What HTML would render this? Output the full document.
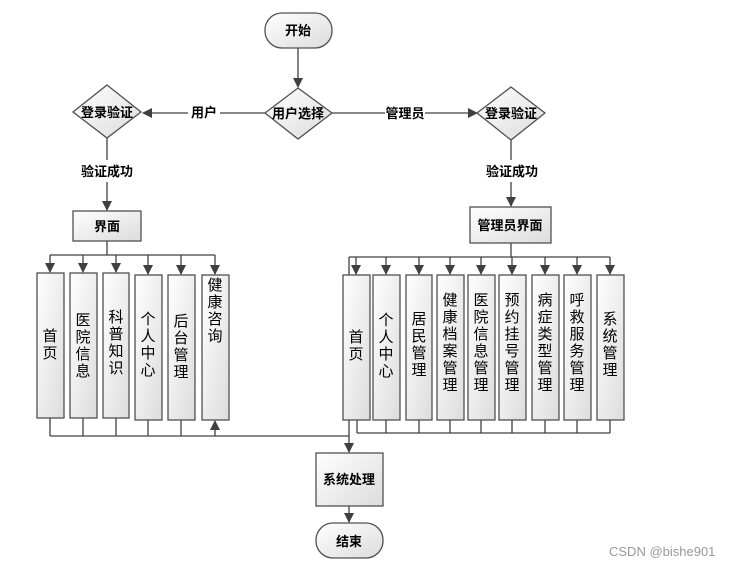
<!DOCTYPE html>
<html><head><meta charset="utf-8"><style>
html,body{margin:0;padding:0;background:#fff;}
svg{display:block;}
text{font-family:"Liberation Sans","Noto Sans CJK SC",sans-serif;fill:#000;}
.b{font-weight:bold;font-size:13px;}
.v{font-size:15px;}
</style></head><body>
<svg width="733" height="565" viewBox="0 0 733 565" xmlns="http://www.w3.org/2000/svg">
<defs>
<linearGradient id="g" x1="0" y1="0" x2="1" y2="1">
<stop offset="0" stop-color="#ffffff"/><stop offset="1" stop-color="#dcdcdc"/>
</linearGradient>
<marker id="a" markerWidth="10" markerHeight="10" refX="9" refY="5" orient="auto" markerUnits="userSpaceOnUse">
<path d="M0,0 L10,5 L0,10 z" fill="#404040"/>
</marker>
</defs>
<g stroke="#404040" stroke-width="1.3" fill="none">
<!-- start to choice -->
<line x1="298" y1="48" x2="298" y2="87" marker-end="url(#a)"/>
<line x1="265" y1="113" x2="220" y2="113"/>
<line x1="188" y1="113" x2="143" y2="113" marker-end="url(#a)"/>
<line x1="332" y1="113" x2="385" y2="113"/>
<line x1="425" y1="113" x2="477" y2="113" marker-end="url(#a)"/>
<line x1="107" y1="138" x2="107" y2="160"/>
<line x1="107" y1="182" x2="107" y2="210" marker-end="url(#a)"/>
<line x1="511" y1="140" x2="511" y2="160"/>
<line x1="511" y1="182" x2="511" y2="206" marker-end="url(#a)"/>
<!-- left fan -->
<line x1="107" y1="241" x2="107" y2="255"/>
<line x1="50" y1="255" x2="215" y2="255"/>
<line x1="50" y1="255" x2="50" y2="272" marker-end="url(#a)"/>
<line x1="83" y1="255" x2="83" y2="272" marker-end="url(#a)"/>
<line x1="116" y1="255" x2="116" y2="272" marker-end="url(#a)"/>
<line x1="148" y1="255" x2="148" y2="274" marker-end="url(#a)"/>
<line x1="181" y1="255" x2="181" y2="274" marker-end="url(#a)"/>
<line x1="215" y1="255" x2="215" y2="274" marker-end="url(#a)"/>
<line x1="50" y1="418" x2="50" y2="436"/>
<line x1="83" y1="418" x2="83" y2="436"/>
<line x1="116" y1="418" x2="116" y2="436"/>
<line x1="148" y1="420" x2="148" y2="436"/>
<line x1="181" y1="420" x2="181" y2="436"/>
<line x1="215" y1="436" x2="215" y2="421" marker-end="url(#a)"/>
<line x1="50" y1="436" x2="349" y2="436"/>
<!-- right fan -->
<line x1="511" y1="243" x2="511" y2="257"/>
<line x1="349" y1="257" x2="610" y2="257"/>
<line x1="349" y1="257" x2="349" y2="275"/>
<line x1="356" y1="257" x2="356" y2="274" marker-end="url(#a)"/>
<line x1="386" y1="257" x2="386" y2="274" marker-end="url(#a)"/>
<line x1="419" y1="257" x2="419" y2="274" marker-end="url(#a)"/>
<line x1="450" y1="257" x2="450" y2="274" marker-end="url(#a)"/>
<line x1="481" y1="257" x2="481" y2="274" marker-end="url(#a)"/>
<line x1="512" y1="257" x2="512" y2="274" marker-end="url(#a)"/>
<line x1="545" y1="257" x2="545" y2="274" marker-end="url(#a)"/>
<line x1="577" y1="257" x2="577" y2="274" marker-end="url(#a)"/>
<line x1="610" y1="257" x2="610" y2="274" marker-end="url(#a)"/>
<line x1="357" y1="420" x2="357" y2="433"/>
<line x1="386" y1="420" x2="386" y2="433"/>
<line x1="419" y1="420" x2="419" y2="433"/>
<line x1="450" y1="420" x2="450" y2="433"/>
<line x1="481" y1="420" x2="481" y2="433"/>
<line x1="512" y1="420" x2="512" y2="433"/>
<line x1="545" y1="420" x2="545" y2="433"/>
<line x1="577" y1="420" x2="577" y2="433"/>
<line x1="610" y1="420" x2="610" y2="433"/>
<line x1="357" y1="433" x2="610" y2="433"/>
<line x1="349" y1="420" x2="349" y2="452" marker-end="url(#a)"/>
<line x1="349" y1="506" x2="349" y2="522" marker-end="url(#a)"/>
</g>
<g stroke="#505050" stroke-width="1.3" fill="url(#g)">
<rect x="265" y="13" width="67" height="35" rx="17"/>
<polygon points="298,88 332,113 298,139 265,113"/>
<polygon points="107,85 141,112 107,138 73,112"/>
<polygon points="511,87 545,113 511,140 477,113"/>
<rect x="73" y="211" width="68" height="30"/>
<rect x="470" y="207" width="81" height="36"/>
<rect x="37" y="273" width="27" height="145"/>
<rect x="70" y="273" width="27" height="145"/>
<rect x="103" y="273" width="26" height="145"/>
<rect x="135" y="275" width="27" height="145"/>
<rect x="168" y="275" width="27" height="145"/>
<rect x="202" y="275" width="27" height="145"/>
<rect x="343" y="275" width="27" height="145"/>
<rect x="373" y="275" width="27" height="145"/>
<rect x="406" y="275" width="26" height="145"/>
<rect x="437" y="275" width="27" height="145"/>
<rect x="468" y="275" width="27" height="145"/>
<rect x="499" y="275" width="27" height="145"/>
<rect x="532" y="275" width="27" height="145"/>
<rect x="564" y="275" width="27" height="145"/>
<rect x="597" y="275" width="27" height="145"/>
<rect x="316" y="453" width="67" height="53"/>
<rect x="316" y="523" width="67" height="35" rx="17"/>
</g>
<g class="b" text-anchor="middle">
<text x="298" y="35">开始</text>
<text x="298" y="118">用户选择</text>
<text x="107" y="117">登录验证</text>
<text x="511" y="118">登录验证</text>
<text x="204" y="117">用户</text>
<text x="405" y="118">管理员</text>
<text x="107" y="176">验证成功</text>
<text x="512" y="176">验证成功</text>
<text x="107" y="231">界面</text>
<text x="510" y="230">管理员界面</text>
<text x="349" y="484">系统处理</text>
<text x="349" y="546">结束</text>
</g>
<g class="v" text-anchor="middle">
<text x="50" y="341">首</text><text x="50" y="358">页</text>
<text x="83" y="325">医</text><text x="83" y="342">院</text><text x="83" y="359">信</text><text x="83" y="376">息</text>
<text x="116" y="322">科</text><text x="116" y="339">普</text><text x="116" y="356">知</text><text x="116" y="373">识</text>
<text x="148" y="324">个</text><text x="148" y="341">人</text><text x="148" y="358">中</text><text x="148" y="375">心</text>
<text x="181" y="326">后</text><text x="181" y="343">台</text><text x="181" y="360">管</text><text x="181" y="377">理</text>
<text x="215" y="290">健</text><text x="215" y="307">康</text><text x="215" y="324">咨</text><text x="215" y="341">询</text>
<text x="356" y="342">首</text><text x="356" y="359">页</text>
<text x="386" y="325">个</text><text x="386" y="342">人</text><text x="386" y="359">中</text><text x="386" y="376">心</text>
<text x="419" y="324">居</text><text x="419" y="341">民</text><text x="419" y="358">管</text><text x="419" y="375">理</text>
<text x="450" y="305">健</text><text x="450" y="322">康</text><text x="450" y="339">档</text><text x="450" y="356">案</text><text x="450" y="373">管</text><text x="450" y="390">理</text>
<text x="481" y="305">医</text><text x="481" y="322">院</text><text x="481" y="339">信</text><text x="481" y="356">息</text><text x="481" y="373">管</text><text x="481" y="390">理</text>
<text x="512" y="305">预</text><text x="512" y="322">约</text><text x="512" y="339">挂</text><text x="512" y="356">号</text><text x="512" y="373">管</text><text x="512" y="390">理</text>
<text x="545" y="305">病</text><text x="545" y="322">症</text><text x="545" y="339">类</text><text x="545" y="356">型</text><text x="545" y="373">管</text><text x="545" y="390">理</text>
<text x="577" y="305">呼</text><text x="577" y="322">救</text><text x="577" y="339">服</text><text x="577" y="356">务</text><text x="577" y="373">管</text><text x="577" y="390">理</text>
<text x="610" y="324">系</text><text x="610" y="341">统</text><text x="610" y="358">管</text><text x="610" y="375">理</text>
</g>
<text x="609" y="556" font-size="13" style="fill:#999">CSDN @bishe901</text>
</svg>
</body></html>
